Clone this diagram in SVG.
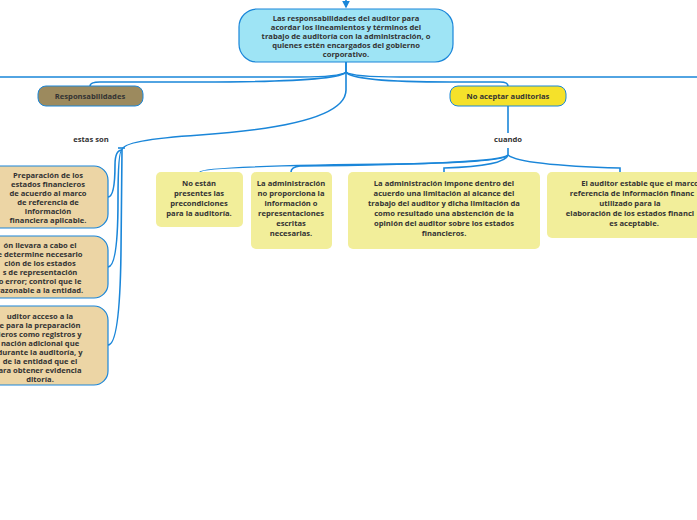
<svg xmlns="http://www.w3.org/2000/svg" width="697" height="520" viewBox="0 0 697 520">
<style>
.c{fill:none;stroke:#1a86d9;stroke-width:1.6}
text{font-family:"Open Sans","DejaVu Sans",sans-serif;font-size:7.6px;font-weight:bold;fill:#333;text-anchor:middle}
.y{fill:#f2ee9a}
.t{fill:#ecd5a5;stroke:#1a86d9;stroke-width:1.2}
</style>
<defs><marker id="a" viewBox="0 0 10 10" refX="8" refY="5" markerWidth="5" markerHeight="5" orient="auto"><path d="M0 0L10 5L0 10z" fill="#1a86d9"/></marker></defs>
<rect width="697" height="520" fill="#fff"/>
<g id="connectors">
<path class="c" d="M346 0V7" marker-end="url(#a)"/>
<path class="c" d="M346 62V72Q340 77 300 77H0"/>
<path class="c" d="M346 72Q352 77 400 77H697"/>
<path class="c" d="M346 72Q340 82 200 82H100Q90 82 90 86"/>
<path class="c" d="M346 72Q352 82 450 82H500Q508 82 508 86"/>
<path class="c" d="M346 62V90Q346 125 200 135Q122 140 122 150"/>
<path class="c" d="M508 106V133"/>
<path class="c" d="M118 148H125"/>
<path class="c" d="M508 148V155Q508 162 400 164Q200 166 200 172"/>
<path class="c" d="M508 155Q500 164 300 166Q291 167 291 172"/>
<path class="c" d="M508 155Q505 166 444 168V172"/>
<path class="c" d="M508 155Q520 165 620 168V172"/>
<path class="c" d="M122 150Q115 150 115 165Q115 197 108 197"/>
<path class="c" d="M122 150Q118 150 118 200Q118 267 108 267"/>
<path class="c" d="M122 150Q122 150 121 250Q120 345 108 345"/>
</g>
<g id="root"><rect x="239" y="9" width="214" height="53" rx="18" fill="#9ee4f5" stroke="#1a86d9" stroke-width="1.2"/>
<text x="346" y="21">Las responsabilidades del auditor para</text><text x="346" y="30">acordar los lineamientos y términos del</text><text x="346" y="39">trabajo de auditoría con la administración, o</text><text x="346" y="48">quienes estén encargados del gobierno</text><text x="346" y="57">corporativo.</text></g>
<g id="resp"><rect x="38" y="86" width="105" height="20" rx="8" fill="#9c8a5e" stroke="#1a86d9"/><text x="90" y="99">Responsabilidades</text></g>
<g id="noacep"><rect x="450" y="86" width="116" height="20" rx="8" fill="#f5e12a" stroke="#1a86d9"/><text x="508" y="99">No aceptar auditorias</text></g>
<g id="estas"><text x="91" y="142">estas son</text></g>
<g id="cuando"><text x="508" y="142">cuando</text></g>
<g id="l1"><rect class="t" x="-20" y="166" width="128" height="62" rx="14"/>
<text x="48" y="178">Preparación de los</text><text x="48" y="187">estados financieros</text><text x="48" y="196">de acuerdo al marco</text><text x="48" y="205">de referencia de</text><text x="48" y="214">información</text><text x="48" y="223">financiera aplicable.</text></g>
<g id="l2"><rect class="t" x="-20" y="236" width="128" height="62" rx="14"/>
<text x="40" y="248">ón llevara a cabo el</text><text x="40" y="257">e determine necesario</text><text x="40" y="266">ción de los estados</text><text x="40" y="275">s de representación</text><text x="40" y="284">o error; control que le</text><text x="40" y="293">razonable a la entidad.</text></g>
<g id="l3"><rect class="t" x="-20" y="306" width="128" height="79" rx="14"/>
<text x="40" y="319">uditor acceso a la</text><text x="40" y="328">e para la preparación</text><text x="40" y="337">ieros como registros y</text><text x="40" y="346">nación adicional que</text><text x="40" y="355">durante la auditoría, y</text><text x="40" y="364">de la entidad que el</text><text x="40" y="373">ara obtener evidencia</text><text x="40" y="382">ditoría.</text></g>
<g id="y1"><rect class="y" x="156" y="172" width="87" height="55" rx="5"/>
<text x="199" y="186">No están</text><text x="199" y="196">presentes las</text><text x="199" y="206">precondiciones</text><text x="199" y="216">para la auditoría.</text></g>
<g id="y2"><rect class="y" x="251" y="172" width="81" height="77" rx="5"/>
<text x="291" y="186">La administración</text><text x="291" y="196">no proporciona la</text><text x="291" y="206">información o</text><text x="291" y="216">representaciones</text><text x="291" y="226">escritas</text><text x="291" y="236">necesarias.</text></g>
<g id="y3"><rect class="y" x="348" y="172" width="192" height="77" rx="5"/>
<text x="444" y="186">La administración impone dentro del</text><text x="444" y="196">acuerdo una limitación al alcance del</text><text x="444" y="206">trabajo del auditor y dicha limitación da</text><text x="444" y="216">como resultado una abstención de la</text><text x="444" y="226">opinión del auditor sobre los estados</text><text x="444" y="236">financieros.</text></g>
<g id="y4"><rect class="y" x="547" y="172" width="165" height="66" rx="5"/>
<text x="640" y="186">El auditor estable que el marco</text><text x="632" y="196">referencia de información financ</text><text x="630" y="206">utilizado para la</text><text x="630" y="216">elaboración de los estados financi</text><text x="634" y="226">es aceptable.</text></g>
</svg>
